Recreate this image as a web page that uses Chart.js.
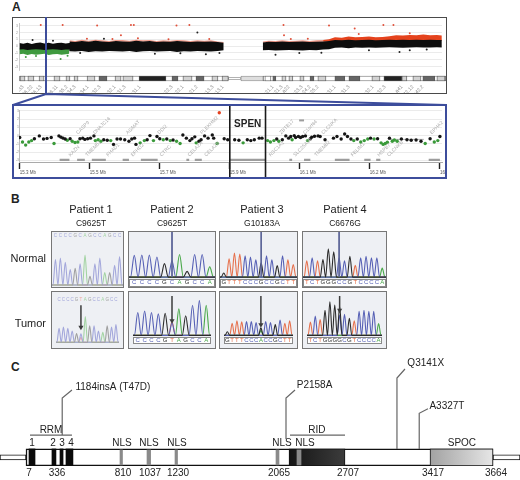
<!DOCTYPE html>
<html>
<head>
<meta charset="utf-8">
<title>SPEN alterations</title>
<script src="https://cdn.jsdelivr.net/npm/chart.js@4.4.1/dist/chart.umd.min.js"></script>
<style>
  html, body { margin: 0; padding: 0; background: #fff; }
  body { position: relative; width: 520px; height: 480px; overflow: hidden;
         font-family: "Liberation Sans", Arial, sans-serif; color: #222; }
  .txt { position: absolute; white-space: nowrap; }
</style>
</head>
<body>
<div class="txt" style="left:12px;top:0;font:bold 12px/14px 'Liberation Sans'">A</div>
<div class="txt" style="left:11px;top:192px;font:bold 12px/14px 'Liberation Sans'">B</div>
<div class="txt" style="left:11px;top:360px;font:bold 12px/14px 'Liberation Sans'">C</div>
<script>
const N = null;
const pad = n => Array(n).fill(null);

// ---- A: chromosome 1 copy number (band edges) ----
const cnMb = [0.3, 2.5, 5, 7.5, 10, 12.5, 15, 17.5, 20, 22.5, 25, 27.5, 29.6,
  29.8, 33, 37, 41, 45, 49, 53, 57, 61, 65, 69, 73, 77, 81, 85, 89, 93, 97, 101, 105, 109, 113, 117, 120.5,
  132,
  143.5, 147, 151, 155, 159, 163, 167, 171, 175, 179, 182.5,
  186, 190, 194, 198, 202, 206, 210, 214,
  218, 222, 226, 230, 234, 238, 242, 246, 248.9];
const cnBlackHigh = [0.45, 0.35, 0.5, 0.3, 0.45, 0.55, 0.4, 0.5, 0.35, 0.45, 0.5, 0.4, 0.45,
  0.7, 0.6, 0.75, 0.65, 0.8, 0.7, 0.6, 0.75, 0.7, 0.65, 0.8, 0.7, 0.75, 0.6, 0.7, 0.65, 0.75, 0.7, 0.6, 0.7, 0.65, 0.7, 0.6, 0.5,
  N,
  0.55, 0.65, 0.6, 0.7, 0.6, 0.65, 0.7, 0.6, 0.65, 0.7, 0.75,
  0.9, 0.85, 0.95, 0.85, 0.9, 0.95, 0.85, 0.9,
  0.95, 0.9, 0.95, 0.9, 0.95, 0.9, 0.95, 0.9, 0.9];
const cnBlackLow = [-0.5, -0.45, -0.55, -0.5, -0.45, -0.5, -0.55, -0.5, -0.45, -0.5, -0.55, -0.5, -0.5,
  -0.75, -0.8, -0.7, -0.85, -0.75, -0.8, -0.7, -0.75, -0.8, -0.7, -0.85, -0.75, -0.7, -0.8, -0.75, -0.7, -0.85, -0.75, -0.8, -0.7, -0.75, -0.8, -0.7, -0.6,
  N,
  -0.6, -0.55, -0.65, -0.6, -0.55, -0.6, -0.65, -0.55, -0.6, -0.5, -0.45,
  -0.25, -0.2, -0.3, -0.2, -0.25, -0.2, -0.25, -0.2,
  -0.15, -0.2, -0.25, -0.2, -0.15, -0.2, -0.2, -0.15, -0.2];
const cnGreenHigh = [-0.3, -0.35, -0.3, -0.4, -0.3, -0.35, -0.3, -0.35, -0.4, -0.3, -0.35, -0.3, -0.35, ...pad(53)];
const cnGreenLow = [-1.2, -1.1, -1.3, -1.15, -1.25, -1.2, -1.1, -1.3, -1.2, -1.15, -1.25, -1.2, -1.1, ...pad(53)];
const cnRedLow = [...pad(13),
  0.65, 0.55, 0.7, 0.6, 0.75, 0.65, 0.55, 0.7, 0.65, 0.6, 0.75, 0.65, 0.7, 0.55, 0.65, 0.6, 0.7, 0.65, 0.55, 0.65, 0.6, 0.65, 0.55, 0.45,
  N,
  0.5, 0.6, 0.55, 0.65, 0.55, 0.6, 0.65, 0.55, 0.6, 0.65, 0.7,
  0.8, 0.75, 0.85, 0.75, 0.8, 0.85, 0.75, 0.8,
  0.85, 0.8, 0.85, 0.8, 0.85, 0.8, 0.85, 0.8, 0.8];
const cnRedHigh = [...pad(13),
  0.85, 0.75, 0.95, 0.8, 0.95, 0.85, 0.75, 0.9, 0.9, 0.8, 0.95, 0.85, 0.9, 0.75, 0.85, 0.8, 0.9, 0.85, 0.75, 0.85, 0.8, 0.85, 0.7, 0.6,
  N,
  0.7, 0.8, 0.75, 0.85, 0.75, 0.8, 0.85, 0.75, 0.85, 0.9, 1.0,
  1.3, 1.25, 1.4, 1.3, 1.35, 1.4, 1.3, 1.35,
  1.45, 1.6, 1.55, 1.65, 1.6, 1.7, 1.6, 1.65, 1.55];
const redDenseFromMb = 179;
const cnRedDots = [[12.8, 3.1], [25.7, 3.1], [46, 3.05], [65.9, 3.1], [67.6, 3.1], [92.7, 3.05], [100.3, 3.1],
  [155.7, 3.1], [182.5, 3.05], [214.5, 3.1], [220.4, 3.1], [197.6, 2.6], [60, 1.6], [156, 1.6],
  [40, 1.1], [55, 1.05], [70, 1.15], [88, 1.0], [112, 1.05], [160, 1.05], [170, 1.1], [200, 1.8], [230, 1.9]];
const cnBlackDots = [[105, 2.0], [151, -1.25], [206, -0.6], [224, -0.85], [8, 0.9], [20, 0.8], [50, 1.1], [80, -1.1],
  [110, -1.2], [118, -1.0], [165, -1.0], [230, -0.6], [240, -0.5], [36, -1.0], [95, -1.05], [178, -0.95]];
const cnGreenDots = [[24.5, -1.9], [28.6, -1.4], [4, -1.6], [16, -1.5], [10, -1.45]];
const cnTicks = [-3, -2, -1, 0, 1, 2, 3];
const zoomMb = 15.9;

// chromosome 1 ideogram
const ideoStart = [0.6, 5.2, 11.7, 20.4, 27.4, 32.1, 39.7, 46.6, 56, 60.6, 70, 89.2, 95.6, 103.2, 112.5, 118.4,
  143.4, 148, 153.3, 157.4, 163.8, 169.7, 174.3, 184.2, 192.4, 205.8, 212.8, 223.3, 229.7, 235.5, 243.7];
const ideoEnd = [3.5, 8.7, 14.6, 23.9, 29.7, 34.4, 44.3, 51.3, 59.5, 66.5, 85.7, 92.7, 100.9, 107.9, 116, 122,
  146.9, 149.8, 155.7, 159.7, 166.2, 172, 179, 190, 198.8, 210.5, 223.3, 226.2, 234.4, 242.5, 248.4];
const ideoStain = ['l', 'l', 'l', 'l', 'l', 'l', 'l', 'd', 'l', 'l', 'b', 'd', 'l', 'd', 'l', 'l',
  'w', 'd', 'l', 'l', 'l', 'd', 'l', 'd', 'd', 'l', 'b', 'l', 'l', 'd', 'l'];
const ideoArms = [[0.3, 122], [142.4, 248.8]];
const ideoCentromere = [122, 129.4];
const ideoHetero = [129.4, 142.4];
const ideoTickMb = [2.3, 7.6, 12.8, 22.2, 28, 32.6, 40.2, 47.2, 56, 61.8, 70.5, 89.2, 95.6, 103.8, 113.1, 118.9,
  148.1, 153.3, 157.4, 165, 169.7, 174.3, 184.2, 192.4, 206.4, 213.4, 223.3, 229.7, 235.5];
const ideoTickNames = ['p36.33', 'p36.22', 'p36.13', 'p36.11', 'p35.2', 'p34.3', 'p34.1', 'p32.3', 'p32.1', 'p31.3',
  'p31.1', 'p22.3', 'p22.1', 'p21.2', 'p13.3', 'p13.1', 'q21.1', 'q21.3', 'q22', 'q23.3', 'q24.2', 'q25.2',
  'q31.1', 'q31.3', 'q32.1', 'q32.3', 'q41', 'q42.12', 'q42.2'];

// zoomed region around SPEN (x in tick steps)
const a2TickLabels = ['15.3 Mb', '15.5 Mb', '15.7 Mb', '15.9 Mb', '16.1 Mb', '16.2 Mb', '16.4 Mb'];
const a2Black = [[0.0, -0.23], [0.21, -0.38], [0.28, -0.04], [0.34, -0.42], [0.39, -0.34], [0.45, -0.23], [0.56, -0.04],
  [0.59, -0.19], [0.62, -0.31], [0.65, -0.42], [0.72, -0.38], [0.86, -0.38], [0.90, -0.31], [0.93, -0.46], [0.97, -0.38],
  [1.01, -0.31], [1.06, -0.04], [1.20, -0.50], [1.25, -0.57], [1.34, -1.07], [1.39, -0.42], [1.44, -0.42], [1.50, -0.50],
  [1.56, -0.69], [1.60, -0.42], [1.64, -0.31], [1.66, -1.07], [1.82, -0.50], [1.86, 0.0], [1.96, -0.11], [2.00, -0.38],
  [2.10, -0.42], [2.19, -0.54], [2.33, 0.08], [2.38, -0.31], [2.43, -0.61], [2.46, -0.38], [2.50, -0.15], [2.56, -0.69],
  [2.59, -0.50], [2.64, -0.04], [2.69, -0.31], [2.75, 0.08], [2.77, -0.31], [2.92, -0.38], [2.97, -0.50],
  [3.07, -0.50], [3.13, -0.57], [3.25, -0.50], [3.30, -0.61], [3.35, -0.50], [3.42, -0.31], [3.46, -0.31],
  [3.67, -0.42], [3.75, -0.50], [3.80, -0.04], [3.84, -0.31], [3.87, -0.11], [3.92, 0.0], [3.94, -0.23], [3.98, -0.11],
  [4.01, -0.23], [4.04, -0.11], [4.08, -0.04], [4.15, -0.38], [4.17, -0.19], [4.21, -0.08], [4.26, -0.04], [4.29, -0.11],
  [4.36, -0.50], [4.48, -0.31], [4.53, -0.11], [4.59, -0.42], [4.64, 0.19], [4.68, -0.11], [4.73, -0.42], [4.82, -0.42],
  [5.01, -0.31], [5.11, -0.38], [5.28, -0.31], [5.45, -0.42], [5.53, -0.50], [5.59, -0.57], [5.66, -0.54], [5.73, -0.69],
  [5.86, -0.38], [6.0, -0.11]];
const a2Green = [[0.04, -0.77], [0.085, -1.15], [0.13, -0.77], [0.17, -0.61], [0.49, -0.96], [0.68, -0.57], [0.75, -0.69],
  [0.79, -0.84], [0.83, -0.77], [1.08, -0.61], [1.12, -0.50], [1.16, -0.69], [1.30, -0.61], [1.72, -0.88], [1.78, -0.61],
  [1.91, -0.61], [2.05, -0.50], [2.15, -0.61], [2.24, -0.69], [2.29, -0.96], [2.52, -0.88], [2.82, -0.96], [3.19, -0.88],
  [3.54, -0.61], [3.58, -0.77], [3.63, -0.61], [3.70, -0.69], [3.89, -0.50], [4.11, -0.61], [4.77, -0.61], [4.87, -0.77],
  [4.92, -0.61], [4.97, -0.42], [5.06, -0.42], [5.16, -0.88], [5.19, -1.07], [5.22, -0.96], [5.25, -0.80], [5.32, -0.69],
  [5.35, -0.54], [5.39, -0.69], [5.79, -0.96], [5.92, -0.77], [5.97, -0.61]];
const a2Red = [[2.85, 2.76]];
const a2GeneStart = [0.57, 0.82, 1.03, 1.47, 1.73, 2.38, 2.50, 3.0, 3.85, 4.06, 4.50, 4.92, 5.09, 5.84];
const a2GeneEnd = [0.71, 0.93, 1.23, 1.56, 1.97, 2.42, 2.60, 3.51, 3.89, 4.15, 4.71, 5.01, 5.15, 6.0];
const a2GeneLane = -2.95;
const a2UpperGene = [3.99, 4.06];
const a2UpperLane = 1.84;
const a2Segment = [5.26, 5.77, -0.46];
const spenRange = [3.0, 3.51];
const a2LabelUpperX = [0.82, 1.06, 1.53, 1.98, 2.59, 3.72, 4.06, 4.32, 5.87];
const a2LabelUpper = ['CASP9', 'DNAJC16', 'AGMAT', 'DDI2', 'PLEKHM2', 'ZBTB17', 'C1orf64', 'CLCNKA', 'EPHA2'];
const a2LabelLowerX = [0.71, 0.95, 1.25, 1.6, 2.01, 2.41, 2.65, 3.57, 3.92, 4.22, 4.74, 5.12, 5.26];
const a2LabelLower = ['KAZN', 'TMEM51', 'FHAD1', 'EFHD2', 'CTRC', 'CELA2A', 'CELA2B', 'RSC1A1', 'SLC25A34',
  'TMEM82', 'FBLIM1', 'HSPB7', 'CLCNKB'];

// ---- B: sequencing traces ----
const bPatients = ['Patient 1', 'Patient 2', 'Patient 3', 'Patient 4'];
const bMutations = ['C9625T', 'C9625T', 'G10183A', 'C6676G'];
const bRowNames = ['Normal', 'Tumor'];
const p1NormalSeq = 'CCCCGCAGCCAGCC';
const p1NormalPeaks = [0.53, 0.56, 0.47, 0.32, 0.35, 0.44, 0.62, 0.18, 0.44, 0.56, 0.26, 0.26, 0.41, 0.59];
const p1TumorSeq = 'CCCCGTAGCCAGCC';
const p1TumorPeaks = [0.33, 0.36, 0.33, 0.27, 0.21, 0.12, 0.61, 0.39, 0.39, 0.27, 0.24, 0.39, 0.36, 0.42];
const p2NormalSeq = 'CCCCGCAGCCA';
const p2NormalPeaks = [0.53, 0.54, 0.54, 0.49, 0.33, 0.40, 0.55, 0.14, 0.55, 0.55, 0.25];
const p2TumorSeq = 'CCCCGTAGCCA';
const p2TumorPeaks = [0.64, 0.68, 0.64, 0.60, 0.62, 0.38, 0.74, 0.55, 0.84, 0.97, 0.84];
const p3NormalSeq = 'GTTTCCCGCCGCTT';
const p3NormalPeaks = [0.10, 0.45, 0.59, 0.56, 0.52, 0.49, 0.42, 0.35, 0.52, 0.42, 0.28, 0.52, 0.42, 0.31];
const p3TumorSeq = 'GTTTCCCACCGCTT';
const p3TumorPeaks = [0.10, 0.34, 0.41, 0.38, 0.39, 0.39, 0.36, 0.14, 0.39, 0.36, 0.30, 0.43, 0.34, 0.41];
const p4NormalSeq = 'TCTGGGCCGTCCCCA';
const p4NormalPeaks = [0.40, 0.47, 0.40, 0.43, 0.69, 0.62, 0.47, 0.40, 0.51, 0.29, 0.47, 0.51, 0.47, 0.47, 0.22];
const p4TumorSeq = 'TCTGGGGCGTCCCCA';
const p4TumorPeaks = [0.37, 0.54, 0.44, 0.70, 0.94, 0.85, 0.81, 0.59, 0.48, 0.41, 0.67, 0.70, 0.67, 0.67, 0.33];
const bMutIndex = [5, 5, 7, 6];
const bSecondAllele = [['C', 0.20], ['C', 0.35], ['G', 0.21], ['C', 0.57]];
const bArrowTip = [0.36, 0.41, 0.30, 0.70];

// ---- C: SPEN protein ----
const cTicks = [7, 336, 810, 1037, 1230, 2065, 2707, 3417, 3664];
const protein = [7, 3664];
const rrmStart = [42, 312, 379, 422];
const rrmEnd = [113, 350, 401, 472];
const rrmNames = ['1', '2', '3', '4'];
const rrmNameAa = [77, 324, 394, 458];
const nlsStart = [810, 1037, 1230, 2065, 2260];
const nlsEnd = [831, 1062, 1251, 2093, 2298];
const nlsNameAa = [827, 1051, 1247, 2121, 2335];
const rid = [2186, 2707];
const spoc = [3417, 3664];
const mutAa = [395, 2158, 3141, 3327];
const mutNames = ['1184insA (T47D)', 'P2158A', 'Q3141X', 'A3327T'];

// ---------- helpers ----------
Chart.defaults.font.family = '"Liberation Sans", Arial, sans-serif';
Chart.defaults.animation = false;
Chart.defaults.events = [];
Chart.defaults.responsive = true;
Chart.defaults.maintainAspectRatio = false;
Chart.defaults.plugins.legend.display = false;
Chart.defaults.plugins.tooltip.enabled = false;

function place(l, t, w, h, css) {
  const d = document.createElement('div');
  d.style.cssText = 'position:absolute;left:' + l + 'px;top:' + t + 'px;width:' + w + 'px;height:' + h + 'px;' + (css || '');
  const c = document.createElement('canvas');
  d.appendChild(c);
  document.body.appendChild(d);
  return c;
}

function label(text, l, t, w, css) {
  const d = document.createElement('div');
  d.className = 'txt';
  d.style.cssText += 'left:' + l + 'px;top:' + t + 'px;width:' + w + 'px;' + css;
  d.textContent = text;
  document.body.appendChild(d);
}

// text drawn at data coordinates
function textLayer(items) {
  return {
    id: 'textLayer',
    afterDatasetsDraw(chart) {
      const {ctx} = chart, sx = chart.scales.x, sy = chart.scales.y;
      items.forEach(it => {
        ctx.save();
        ctx.font = it.font;
        ctx.fillStyle = it.color || '#222';
        ctx.textAlign = it.align || 'center';
        ctx.textBaseline = 'middle';
        ctx.translate(sx.getPixelForValue(it.x), sy.getPixelForValue(it.y));
        if (it.rot) ctx.rotate(it.rot * Math.PI / 180);
        ctx.fillText(it.text, 0, 0);
        ctx.restore();
      });
    }
  };
}

// piecewise axis for the schematic protein (aa -> fraction of width)
function warpScale(id, knots) {
  class Warp extends Chart.LinearScale {
    getPixelForValue(v) {
      let i = 0;
      while (i < knots.length - 2 && v > knots[i + 1][0]) i++;
      const a = knots[i], b = knots[i + 1];
      return this.getPixelForDecimal(a[1] + (v - a[0]) / (b[0] - a[0]) * (b[1] - a[1]));
    }
  }
  Warp.id = id;
  Warp.defaults = Chart.LinearScale.defaults;
  Chart.register(Warp);
}

function noPad(h) {
  return s => { s.height = h; s.paddingLeft = 0; s.paddingRight = 0; };
}

// ---------- A: whole chromosome ----------
function cnSet(vals, extra) {
  return Object.assign({
    type: 'line', data: cnMb.map((m, i) => ({x: m, y: vals[i]})),
    pointRadius: 0, borderWidth: 0, spanGaps: false, fill: false, tension: 0
  }, extra);
}
const redFaint = v => v.map((y, i) => cnMb[i] < redDenseFromMb + 3 ? y : null);
const redDense = v => v.map((y, i) => cnMb[i] >= redDenseFromMb ? y : null);
function dots(arr, color, r, ord) {
  return {type: 'line', showLine: false, data: arr.map(p => ({x: p[0], y: p[1]})),
    pointRadius: r, pointBackgroundColor: color, pointBorderWidth: 0, order: ord};
}

const a1 = new Chart(place(13, 19, 433, 55), {
  type: 'line',
  data: {datasets: [
    cnSet(cnGreenLow, {order: 3}),
    cnSet(cnGreenHigh, {order: 3, fill: '-1', backgroundColor: '#3f9a3f'}),
    cnSet(redFaint(cnRedLow), {order: 2}),
    cnSet(redFaint(cnRedHigh), {order: 2, fill: '-1', backgroundColor: 'rgba(225,70,40,0.55)'}),
    cnSet(redDense(cnRedLow), {order: 2}),
    cnSet(redDense(cnRedHigh), {order: 2, fill: '-1', backgroundColor: '#e5431d'}),
    cnSet(cnBlackLow, {order: 1}),
    cnSet(cnBlackHigh, {order: 1, fill: '-1', backgroundColor: '#0d0d0d'}),
    dots(cnRedDots, '#e0503a', 1, 0),
    dots(cnBlackDots, '#222', 1, 0),
    dots(cnGreenDots, '#3f9a3f', 1, 0)
  ]},
  options: {
    scales: {
      x: {type: 'linear', min: 0, max: 249, display: false},
      y: {type: 'linear', min: -3.5, max: 3.4,
        afterBuildTicks: s => { s.ticks = cnTicks.map(v => ({value: v})); },
        afterFit: s => { s.width = 6; },
        ticks: {font: {size: 3.5}, color: '#999', padding: 1, callback: v => String(v)},
        grid: {color: '#e3e3e3', lineWidth: 0.7, drawTicks: false},
        border: {color: '#c8c8c8'}}
    }
  }
});

const stainColor = {l: '#d2d2d2', d: '#666', b: '#222', w: '#fff'};
function ideoBar(pairs, thick, bg, border, ord) {
  return {type: 'bar', data: pairs.map(p => ({x: p, y: 0.5})), barThickness: thick, grouped: false,
    borderSkipped: false, backgroundColor: bg, borderColor: border, borderWidth: 0.8, order: ord};
}
new Chart(place(19, 74, 427, 20), {
  type: 'bar',
  data: {datasets: [
    ideoBar(ideoStart.map((s, i) => [s, ideoEnd[i]]), 5, ideoStain.map(k => stainColor[k]), '#555', 1),
    ideoBar(ideoArms, 5, '#fff', '#666', 2),
    ideoBar([ideoHetero], 5, '#dedede', '#888', 2),
    ideoBar([ideoCentromere], 2, '#fff', '#777', 3)
  ]},
  options: {
    indexAxis: 'y',
    scales: {
      x: {type: 'linear', min: 0, max: 249, offset: false,
        afterBuildTicks: s => { s.ticks = ideoTickMb.map(v => ({value: v})); },
        afterFit: noPad(11),
        ticks: {autoSkip: false, minRotation: 45, maxRotation: 45, font: {size: 5}, color: '#888',
          padding: 1, callback: (v, i) => ideoTickNames[i]},
        grid: {display: false, drawTicks: false}, border: {display: false}},
      y: {type: 'linear', min: 0, max: 1, display: false, offset: false}
    }
  }
});

// ---------- A: zoom on SPEN ----------
function geneLine(starts, ends, y) {
  const pts = [];
  starts.forEach((s, i) => { pts.push({x: s, y: y}, {x: ends[i], y: y}, {x: ends[i], y: null}); });
  return pts;
}
const a2Items = [{x: (spenRange[0] + spenRange[1]) / 2, y: 1.4, text: 'SPEN', font: 'bold 10px "Liberation Sans"'}]
  .concat(a2LabelUpper.map((t, i) => ({x: a2LabelUpperX[i], y: 0.25, text: t, font: '5px "Liberation Sans"',
    color: '#ababab', align: 'left', rot: -45})))
  .concat(a2LabelLower.map((t, i) => ({x: a2LabelLowerX[i], y: -2.45, text: t, font: '5px "Liberation Sans"',
    color: '#ababab', align: 'left', rot: -45})));
const spenLines = {
  id: 'spenLines',
  afterDatasetsDraw(chart) {
    const {ctx} = chart;
    ctx.save();
    ctx.strokeStyle = '#1a1a1a';
    ctx.lineWidth = 1.6;
    spenRange.forEach(v => {
      const px = chart.scales.x.getPixelForValue(v);
      ctx.beginPath(); ctx.moveTo(px, 0); ctx.lineTo(px, chart.height); ctx.stroke();
    });
    ctx.restore();
  }
};
new Chart(place(14, 106, 432, 72), {
  type: 'scatter',
  data: {datasets: [
    dots(a2Black, '#151515', 1.7, 0),
    dots(a2Green, '#3a9a3a', 1.7, 0),
    dots(a2Red, '#e4401e', 1.7, 0),
    {type: 'line', data: geneLine(a2GeneStart, a2GeneEnd, a2GeneLane), spanGaps: false, borderColor: '#9d9d9d',
      borderWidth: 2.2, pointRadius: 0, order: 1},
    {type: 'line', data: geneLine([a2UpperGene[0]], [a2UpperGene[1]], a2UpperLane), borderColor: '#9d9d9d',
      borderWidth: 2, pointRadius: 0, order: 1},
    {type: 'line', data: geneLine([a2Segment[0]], [a2Segment[1]], a2Segment[2]), borderColor: '#aaa',
      borderWidth: 1, pointRadius: 0, order: 1}
  ]},
  options: {
    scales: {
      x: {type: 'linear', min: -0.01, max: 6.03,
        afterBuildTicks: s => { s.ticks = a2TickLabels.map((t, i) => ({value: i})); },
        afterFit: noPad(16),
        ticks: {font: {size: 4.5}, color: '#555', align: 'start', padding: 1, maxRotation: 0, autoSkip: false,
          callback: (v, i) => a2TickLabels[i]},
        grid: {drawOnChartArea: false, tickLength: 7, tickColor: '#222', tickWidth: 1.4},
        border: {color: '#aaa'}},
      y: {type: 'linear', min: -3.2, max: 3.1,
        afterBuildTicks: s => { s.ticks = cnTicks.map(v => ({value: v})); },
        afterFit: s => { s.width = 5; },
        ticks: {font: {size: 3.5}, color: '#999', padding: 0, callback: v => String(v)},
        grid: {color: '#e3e3e3', lineWidth: 0.7, drawTicks: false},
        border: {color: '#bbb'}}
    }
  },
  plugins: [spenLines, textLayer(a2Items)]
});

// frames and zoom connectors
place(12, 17, 435, 77, 'border:1.5px solid #4a4a4a;box-sizing:border-box;');
place(12, 104, 435, 75, 'border:2px solid #3d4d9c;box-sizing:border-box;');
const ov = document.createElement('canvas');
ov.width = 520; ov.height = 480;
ov.style.cssText = 'position:absolute;left:0;top:0;';
document.body.appendChild(ov);
const g = ov.getContext('2d');
const zx = 13 + a1.scales.x.getPixelForValue(zoomMb);
g.strokeStyle = '#3d4d9c';
g.lineWidth = 2;
g.beginPath(); g.moveTo(zx, 17); g.lineTo(zx, 94); g.stroke();
g.beginPath(); g.moveTo(13, 105); g.lineTo(zx, 94); g.lineTo(446, 105); g.stroke();

// ---------- B ----------
const bCols = [[51, 124], [128, 216], [219, 298], [302, 387]];
const bRows = [[231, 288], [291, 349]];
const headerX = [91, 172, 262, 345];
const baseColors = {A: '#4aa84a', C: '#5660b5', G: '#2a2a2a', T: '#e6704c'};
const fadedColors = {A: '#a3d3a3', C: '#a3a7db', G: '#a0a0a0', T: '#f0a6a0'};
const bSeqs = [[p1NormalSeq, p1TumorSeq], [p2NormalSeq, p2TumorSeq], [p3NormalSeq, p3TumorSeq], [p4NormalSeq, p4TumorSeq]];
const bPeaks = [[p1NormalPeaks, p1TumorPeaks], [p2NormalPeaks, p2TumorPeaks], [p3NormalPeaks, p3TumorPeaks],
  [p4NormalPeaks, p4TumorPeaks]];

bPatients.forEach((t, i) => label(t, headerX[i] - 40, 202, 80, 'text-align:center;font-size:11px;line-height:14px;'));
bMutations.forEach((t, i) => label(t, headerX[i] - 40, 218, 80, 'text-align:center;font-size:8.5px;line-height:10px;'));
bRowNames.forEach((t, r) => label(t, 0, r ? 316 : 251, 46, 'text-align:right;font-size:11px;line-height:14px;'));

function traceSets(seq, peaks, second, mut, cols) {
  return ['G', 'C', 'A', 'T'].map(b => {
    const pts = [{x: -0.7, y: 0}];
    for (let i = 0; i < seq.length; i++) {
      let h = seq[i] === b ? peaks[i] : 0;
      if (second && i === mut && second[0] === b) h = second[1];
      pts.push({x: i - 0.5, y: 0}, {x: i, y: h});
    }
    pts.push({x: seq.length - 0.5, y: 0}, {x: seq.length - 0.3, y: 0});
    return {type: 'line', data: pts, borderColor: cols[b], borderWidth: 1.1, pointRadius: 0,
      cubicInterpolationMode: 'monotone', fill: false, order: 1};
  });
}

const stripPlugin = {
  id: 'strip',
  beforeDatasetsDraw(chart) {
    const {ctx, chartArea: a} = chart;
    const y0 = Math.round(chart.scales.y.getPixelForValue(-0.035)) + 0.5;
    ctx.save();
    ctx.fillStyle = '#fff';
    ctx.fillRect(a.left, y0, a.right - a.left, a.bottom - y0);
    ctx.strokeStyle = '#8a8a8a';
    ctx.lineWidth = 1;
    ctx.strokeRect(a.left + 0.5, y0, a.right - a.left - 1, a.bottom - y0 - 0.5);
    ctx.restore();
  }
};

for (let p = 0; p < 4; p++) {
  for (let r = 0; r < 2; r++) {
    const seq = bSeqs[p][r], peaks = bPeaks[p][r], m = bMutIndex[p];
    const faded = p === 0;
    const cols = faded ? fadedColors : baseColors;
    const sets = traceSets(seq, peaks, r ? bSecondAllele[p] : null, m, cols);
    if (r === 0 && !faded) {
      sets.push({type: 'line', data: [{x: m, y: 1.1}, {x: m, y: 0}], borderColor: '#5a6296', borderWidth: 1,
        pointRadius: 0, order: 0});
    }
    if (r === 1) {
      sets.push({type: 'line', data: [{x: m, y: faded ? 0.88 : 1.1}, {x: m, y: bArrowTip[p]}],
        borderColor: '#3c3c3c', borderWidth: 1.5, pointRadius: [0, 3], pointStyle: 'triangle', pointRotation: 180,
        pointBackgroundColor: '#3c3c3c', pointBorderWidth: 0, order: 0});
    }
    const items = seq.split('').map((b, i) => faded
      ? {x: i, y: 1.02, text: b, font: '4.5px "Liberation Sans"', color: cols[b]}
      : {x: i, y: -0.135, text: b, font: '6px "Liberation Sans"', color: cols[b]});
    const [l, rr] = bCols[p], [t, b] = bRows[r];
    new Chart(place(l, t, rr - l, b - t, 'border:1.5px solid #777;box-sizing:border-box;background:#eef0f4;'), {
      type: 'line',
      data: {datasets: sets},
      options: {
        scales: {
          x: {type: 'linear', min: -0.7, max: seq.length - 0.3, display: false},
          y: {type: 'linear', min: faded ? -0.04 : -0.24, max: 1.1, display: false}
        }
      },
      plugins: faded ? [textLayer(items)] : [stripPlugin, textLayer(items)]
    });
  }
}

// ---------- C ----------
const cW = 520;
warpScale('aaSchematic', [[-200, 0], [7, 26 / cW], [336, 54 / cW], [810, 120 / cW], [1037, 147 / cW],
  [1230, 175 / cW], [2065, 276 / cW], [2707, 345 / cW], [3417, 430 / cW], [3664, 493 / cW], [3900, 1]]);

const cBarY = 0.77, cNameY = 2.07, cBracketY = 2.79, cBracketTextY = 3.24;
const mutLineFrom = [cBracketY, 2.43, 1.53, 1.53];
const mutLineTo = [6.13, 6.13, 7.93, 4.75];
const mutElbow = [[465, 6.85], [2242, 6.85], [3208, 8.74], [3400, 5.15]];
const mutText = [[490, 7.12], [2258, 7.3], [3228, 9.28], [3412, 5.35]];

function hGrad(chart, a, b, c0, c1) {
  const sx = chart.scales.x;
  if (!chart.chartArea || !sx) return c0;
  const x0 = sx.getPixelForValue(a), x1 = sx.getPixelForValue(b);
  if (!isFinite(x0) || !isFinite(x1)) return c0;
  const gr = chart.ctx.createLinearGradient(x0, 0, x1, 0);
  gr.addColorStop(0, c0);
  gr.addColorStop(1, c1);
  return gr;
}
function cBar(pairs, extra) {
  return Object.assign({type: 'bar', data: pairs.map(p => ({x: p, y: cBarY})), grouped: false, borderSkipped: false,
    barThickness: 17, borderWidth: 0, borderColor: '#111'}, extra);
}
function cLine(pts) {
  return {type: 'line', indexAxis: 'x', data: pts.map(p => ({x: p[0], y: p[1]})), borderColor: '#666',
    borderWidth: 1.2, pointRadius: 0, fill: false, order: 0};
}

const cItems = []
  .concat(rrmNames.map((t, i) => ({x: rrmNameAa[i], y: cNameY, text: t, font: '10px "Liberation Sans"'})))
  .concat(nlsNameAa.map(a => ({x: a, y: cNameY, text: 'NLS', font: '10px "Liberation Sans"'})))
  .concat([
    {x: 3542, y: cNameY, text: 'SPOC', font: '10px "Liberation Sans"'},
    {x: 301, y: cBracketTextY, text: 'RRM', font: '10px "Liberation Sans"'},
    {x: 2446, y: cBracketTextY, text: 'RID', font: '10px "Liberation Sans"'}
  ])
  .concat(mutNames.map((t, i) => ({x: mutText[i][0], y: mutText[i][1], text: t, font: '10px "Liberation Sans"',
    align: 'left'})));

new Chart(place(0, 355, 520, 125), {
  type: 'bar',
  data: {datasets: [
    cBar([[-200, protein[0]], [protein[1], 3900]], {barThickness: 5, backgroundColor: '#fff', borderWidth: 1, order: 6}),
    cBar([protein], {backgroundColor: '#fff', borderWidth: 1.5, order: 5}),
    cBar([spoc], {backgroundColor: c => hGrad(c.chart, spoc[0], spoc[1], '#a2a2a2', '#e6e6e6'), borderWidth: 1, order: 4}),
    cBar([rid], {backgroundColor: c => hGrad(c.chart, rid[0], rid[1], '#141414', '#3c3c3c'), borderWidth: 1, order: 4}),
    cBar(rrmStart.map((s, i) => [s, rrmEnd[i]]), {backgroundColor: '#0a0a0a', order: 3}),
    cBar(nlsStart.map((s, i) => [s, nlsEnd[i]]), {backgroundColor: '#8a8a8a', barThickness: 15, order: 2}),
    cLine([[54, cBracketY], [465, cBracketY]]),
    cLine([[2195, cBracketY], [rid[1], cBracketY]]),
    ...mutAa.map((a, i) => cLine([[a, mutLineFrom[i]], [a, mutLineTo[i]], mutElbow[i]]))
  ]},
  options: {
    indexAxis: 'y',
    scales: {
      x: {type: 'aaSchematic', min: -200, max: 3900, offset: false,
        afterBuildTicks: s => { s.ticks = cTicks.map(v => ({value: v})); },
        afterFit: noPad(14),
        ticks: {font: {size: 10}, color: '#222', padding: 1, labelOffset: 3, maxRotation: 0, autoSkip: false,
          callback: (v, i) => String(cTicks[i])},
        grid: {display: false, drawTicks: false}, border: {display: false}},
      y: {type: 'linear', min: 0, max: 10, display: false, offset: false}
    }
  },
  plugins: [textLayer(cItems)]
});
</script>
</body>
</html>
